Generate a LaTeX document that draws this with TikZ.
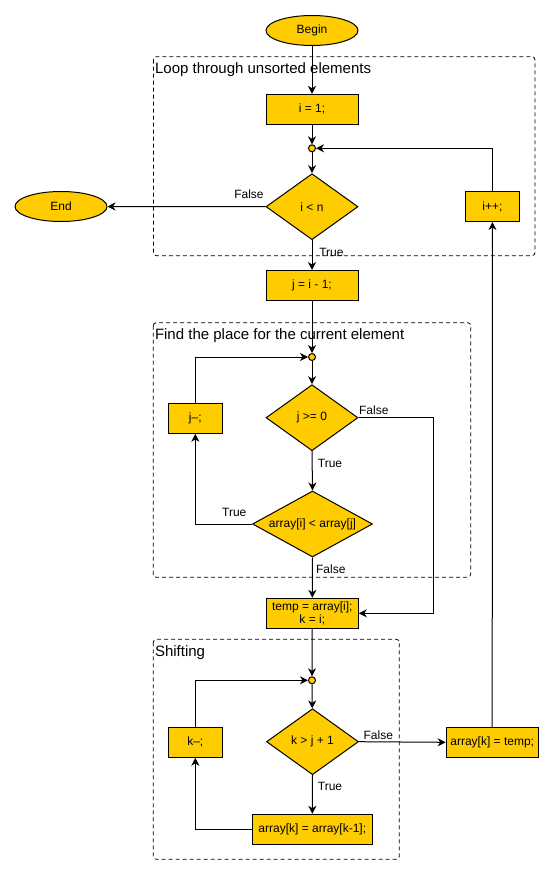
\documentclass[tikz,border=0pt]{standalone}
\usepackage{fontspec}
\setmainfont{Liberation Sans}
\usetikzlibrary{arrows.meta,shapes.geometric}

\definecolor{boxfill}{HTML}{FFCC00}

\tikzset{
	base/.style={draw, fill=boxfill, line width=1pt, inner sep=0pt},
	term/.style={base, ellipse, minimum width=92pt, minimum height=30pt},
	proc/.style={base, rectangle, minimum width=92pt, minimum height=30pt, align=center},
	cond/.style={base, diamond, aspect=1.4, minimum width=92pt, minimum height=66pt},
	dot/.style={base, circle, minimum size=7pt},
	arr/.style={line width=1pt, -{Stealth[length=8pt, width=8pt, inset=2.5pt]}},
	grp/.style={line width=0.8pt, dash pattern=on 4pt off 3pt, rounded corners=3pt},
	lbl/.style={inner sep=0pt},
}

\begin{document}
\begin{tikzpicture}[x=1pt, y=-1pt, font=\fontsize{12}{14}\selectfont]
	\useasboundingbox (0,0) rectangle (553,875);

	% dashed groups
	\foreach \xa/\ya/\xb/\yb/\t [count=\n] in {153.4/56.7/535/255.7/Loop through unsorted elements,
		153.3/322.7/470.7/577.3/Find the place for the current element,
		153.3/639.3/399.3/859.3/Shifting}{
		\draw[grp] (\xa,\ya) rectangle (\xb,\yb);
		\node[lbl, anchor=base west, font=\fontsize{15}{17}\selectfont] (grp\n) at (\xa+1.5,\ya+17.2) {\t};
	}

	% outer loop
	\node[term] (begin) at (312,30.5) {Begin};
	\node[proc] (init) at (312,109.3) {i = 1;};
	\node[dot] (j1) at (312,148.3) {};
	\node[cond] (c1) at (312,206.7) {i < n};
	\node[term] (end) at (61,206.5) {End};
	\node[proc, minimum width=54pt] (inc) at (492.4,206.5) {i++;};
	\node[proc] (setj) at (312,285.5) {j = i - 1;};

	% find the place
	\node[dot] (j2) at (312,357) {};
	\node[cond] (c2) at (312,417.7) {j >= 0};
	\node[proc, minimum width=54pt] (jdec) at (195.3,418.3) {j--;};
	\node[cond, aspect=1.8, minimum width=120pt] (c3) at (312.5,524) {array[i] < array[j]};
	\node[proc, font=\fontsize{12}{13}\selectfont] (tmp) at (312.3,613.3) {temp = array[i];\\k = i;};

	% shifting
	\node[dot] (j3) at (312,680.3) {};
	\node[cond] (c4) at (312.5,741.7) {k > j + 1};
	\node[proc, minimum width=54pt] (kdec) at (195.3,742.3) {k--;};
	\node[proc, minimum width=120pt] (shift) at (312.3,829.3) {array[k] = array[k-1];};
	\node[proc] (store) at (492.2,742.3) {array[k] = temp;};

	\draw[arr] (begin) -- (init);
	\draw[arr] (init) -- (j1);
	\draw[arr] (j1) -- (c1);
	\draw[arr] (c1.west) -- (end.east);
	\draw[arr] (c1.south) -- (setj.north);
	\draw[arr] (inc.north) |- (j1.east);
	\draw[arr] (setj) -- (j2);
	\draw[arr] (j2) -- (c2);
	\draw[arr] (c2.south) -- (c3.north);
	\draw[arr] (c3.west) -| (jdec.south);
	\draw[arr] (jdec.north) |- (j2.west);
	\draw[arr] (c2.east) -- ++(75,0) |- (tmp.east);
	\draw[arr] (c3.south) -- (tmp.north);
	\draw[arr] (tmp) -- (j3);
	\draw[arr] (j3) -- (c4);
	\draw[arr] (c4.east) -- (store.west);
	\draw[arr] (c4.south) -- (shift.north);
	\draw[arr] (shift.west) -| (kdec.south);
	\draw[arr] (kdec.north) |- (j3.west);
	\draw[arr] (store.north) -- (inc.south);

	% branch labels
	\foreach \x/\y/\t [count=\n] in {249/194/False, 331.4/252.7/True, 373.8/410/False, 330/463/True,
		234.3/512.7/True, 330.8/569.3/False, 378.3/735/False, 330/786.7/True}{
		\node[lbl] (lab\n) at (\x,\y) {\t};
	}
\end{tikzpicture}
\end{document}
